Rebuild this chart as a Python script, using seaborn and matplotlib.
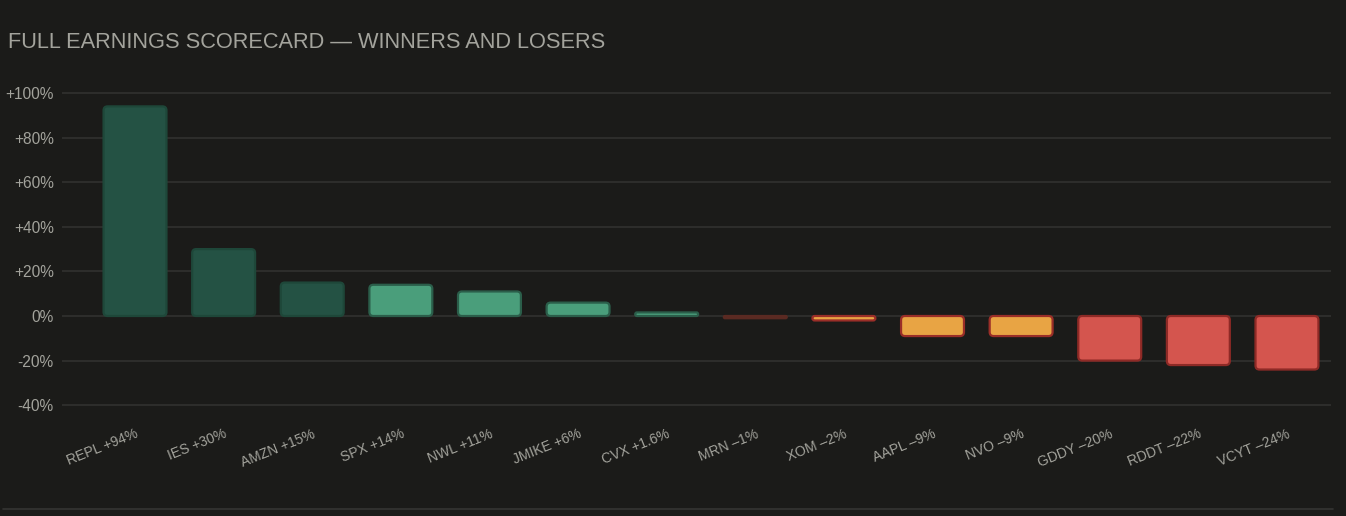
import seaborn as sns
import matplotlib.pyplot as plt
import pandas as pd
from matplotlib.patches import FancyBboxPatch

# scorecard data
tickers = ["REPL", "IES", "AMZN", "SPX", "NWL", "JMIKE", "CVX",
           "MRN", "XOM", "AAPL", "NVO", "GDDY", "RDDT", "VCYT"]
labels = ["REPL +94%", "IES +30%", "AMZN +15%", "SPX +14%", "NWL +11%",
          "JMIKE +6%", "CVX +1.6%", "MRN \u20131%", "XOM \u20132%",
          "AAPL \u20139%", "NVO \u20139%", "GDDY \u201320%", "RDDT \u201322%",
          "VCYT \u201324%"]
moves = [94, 30, 15, 14, 11, 6, 1.6, -1, -2, -9, -9, -20, -22, -24]
fills = ["#245244", "#245244", "#245244", "#4a9e7b", "#4a9e7b", "#4a9e7b", "#4a9e7b",
         "#6b3a2a", "#e8a444", "#e8a444", "#e8a444", "#d4554e", "#d4554e", "#d4554e"]
edges = ["#1e4739", "#1e4739", "#1e4739", "#2b5e4a", "#2b5e4a", "#2b5e4a", "#2b5e4a",
         "#5a2a22", "#9a2e28", "#9a2e28", "#9a2e28", "#8e2a26", "#8e2a26", "#8e2a26"]

df = pd.DataFrame({"label": labels, "move": moves})

bg = "#1b1b19"
txt = "#a3a39c"
grid = "#2d2d2b"

sns.set_theme(style="dark")
plt.rcParams["font.family"] = ["Liberation Sans", "DejaVu Sans"]

W, H = 1346, 516
fig = plt.figure(figsize=(W / 100, H / 100), dpi=100, facecolor=bg)
ax = fig.add_axes([62 / W, 0.1888, (1331 - 62) / W, 0.8457 - 0.1888])
ax.set_facecolor(bg)

sns.barplot(data=df, x="label", y="move", hue="label", palette=fills,
            saturation=1, legend=False, width=0.71, ax=ax, zorder=3)

xlim = (-0.824, 13.497)
ylim = (-46, 106)
ax.set_xlim(*xlim)
ax.set_ylim(*ylim)

# swap the plain rectangles for rounded ones (radius ~4 px)
px_x = ax.get_position().width * W / (xlim[1] - xlim[0])
px_y = ax.get_position().height * H / (ylim[1] - ylim[0])
aspect = px_x / px_y
for bar, ec in zip(list(ax.patches), edges):
    x, y = bar.get_x(), bar.get_y()
    w, h = bar.get_width(), bar.get_height()
    fc = bar.get_facecolor()
    bar.remove()
    r = min(4 / px_x, abs(h) / aspect / 2)
    box = FancyBboxPatch((x, min(y, y + h)), w, abs(h),
                         boxstyle=f"round,pad=0,rounding_size={r}",
                         mutation_aspect=aspect, facecolor=fc, edgecolor=ec,
                         linewidth=1.6, zorder=3)
    ax.add_patch(box)

yt = [-40, -20, 0, 20, 40, 60, 80, 100]
ax.set_yticks(yt)
ax.set_yticklabels([f"+{v}%" if v > 0 else f"{v}%" for v in yt], color=txt, fontsize=11.2)
for y in yt:
    ax.axhline(y, color=grid, lw=1.5, zorder=1)
ax.tick_params(axis="y", length=0, pad=6)
ax.tick_params(axis="x", length=0, pad=6)
plt.setp(ax.get_xticklabels(), rotation=22, ha="right", rotation_mode="anchor",
         color=txt, fontsize=10)
ax.set_xlabel("")
ax.set_ylabel("")
for s in ax.spines.values():
    s.set_visible(False)

fig.text(8 / W, 1 - 43 / H, "FULL EARNINGS SCORECARD \u2014 WINNERS AND LOSERS",
         color=txt, fontsize=15.7, va="center", ha="left")
fig.add_artist(plt.Line2D([3 / W, 1333 / W], [1 - 509 / H] * 2,
                          color="#353533", lw=1.2, transform=fig.transFigure))

fig.savefig("out.png", dpi=100, facecolor=bg)
